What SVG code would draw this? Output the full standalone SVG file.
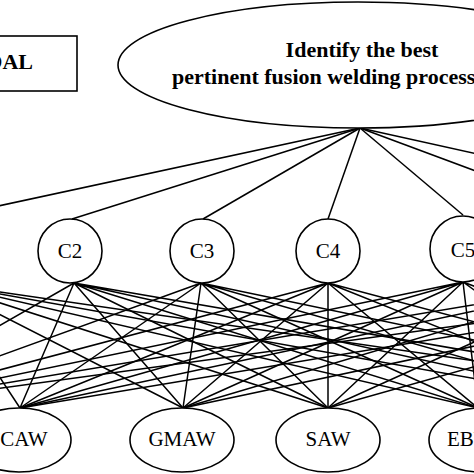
<svg xmlns="http://www.w3.org/2000/svg" width="474" height="474" viewBox="0 0 474 474">
<style>
.n{fill:#fff;stroke:#000;stroke-width:1.6}
.e{stroke:#000;stroke-width:1.5;fill:none}
.t{font-family:"Liberation Serif","Times New Roman",serif;fill:#000}
.c{font-size:21px;text-anchor:middle}
.b{font-size:22px;font-weight:bold}
</style>
<rect width="474" height="474" fill="#fff"/>
<g id="connectors" class="e">
<line x1="360" y1="128" x2="-62" y2="219"/>
<line x1="360" y1="128" x2="72" y2="219"/>
<line x1="360" y1="128" x2="203" y2="219"/>
<line x1="360" y1="128" x2="328" y2="219"/>
<line x1="360" y1="128" x2="463" y2="215"/>
<line x1="360" y1="128" x2="605" y2="219"/>
<line x1="360" y1="128" x2="771" y2="219"/>
<path d="M-62 283L-144 408M-62 283L20 408M-62 283L183 408M-62 283L328 408M-62 283L478 408M-62 283L640 408M-62 283L800 408"/>
<path d="M74 283L-144 408M74 283L20 408M74 283L183 408M74 283L328 408M74 283L478 408M74 283L640 408M74 283L800 408"/>
<path d="M201 283L-144 408M201 283L20 408M201 283L183 408M201 283L328 408M201 283L478 408M201 283L640 408M201 283L800 408"/>
<path d="M328 283L-144 408M328 283L20 408M328 283L183 408M328 283L328 408M328 283L478 408M328 283L640 408M328 283L800 408"/>
<path d="M463 282L-144 408M463 282L20 408M463 282L183 408M463 282L328 408M463 282L478 408M463 282L640 408M463 282L800 408"/>
<path d="M605 283L-144 408M605 283L20 408M605 283L183 408M605 283L328 408M605 283L478 408M605 283L640 408M605 283L800 408"/>
<path d="M771 283L-144 408M771 283L20 408M771 283L183 408M771 283L328 408M771 283L478 408M771 283L640 408M771 283L800 408"/>
</g>
<g id="goal-label">
<rect class="n" x="-80" y="36" width="157" height="55"/>
<text class="t b" x="33" y="69" text-anchor="end">GOAL</text>
</g>
<g id="goal">
<ellipse class="n" cx="358" cy="65" rx="240" ry="63"/>
<text class="t b" x="362" y="57" text-anchor="middle">Identify the best</text>
<text class="t b" x="172" y="84">pertinent fusion welding process</text>
</g>
<g id="c2"><circle class="n" cx="70" cy="251" r="32"/><text class="t c" x="70" y="258">C2</text></g>
<g id="c3"><circle class="n" cx="202" cy="251" r="32"/><text class="t c" x="202" y="258">C3</text></g>
<g id="c4"><circle class="n" cx="328" cy="251" r="32"/><text class="t c" x="328" y="258">C4</text></g>
<g id="c5"><circle class="n" cx="463" cy="249" r="33"/><text class="t c" x="463" y="257">C5</text></g>
<g id="fcaw"><ellipse class="n" cx="19" cy="440" rx="52" ry="32"/><text class="t c" x="18" y="446">FCAW</text></g>
<g id="gmaw"><ellipse class="n" cx="182" cy="440" rx="52" ry="32"/><text class="t c" x="182" y="446">GMAW</text></g>
<g id="saw"><ellipse class="n" cx="328" cy="440" rx="52" ry="32"/><text class="t c" x="328" y="446">SAW</text></g>
<g id="ebw"><ellipse class="n" cx="481" cy="440" rx="52" ry="32"/><text class="t" font-size="21" x="447" y="446">EBW</text></g>
</svg>
